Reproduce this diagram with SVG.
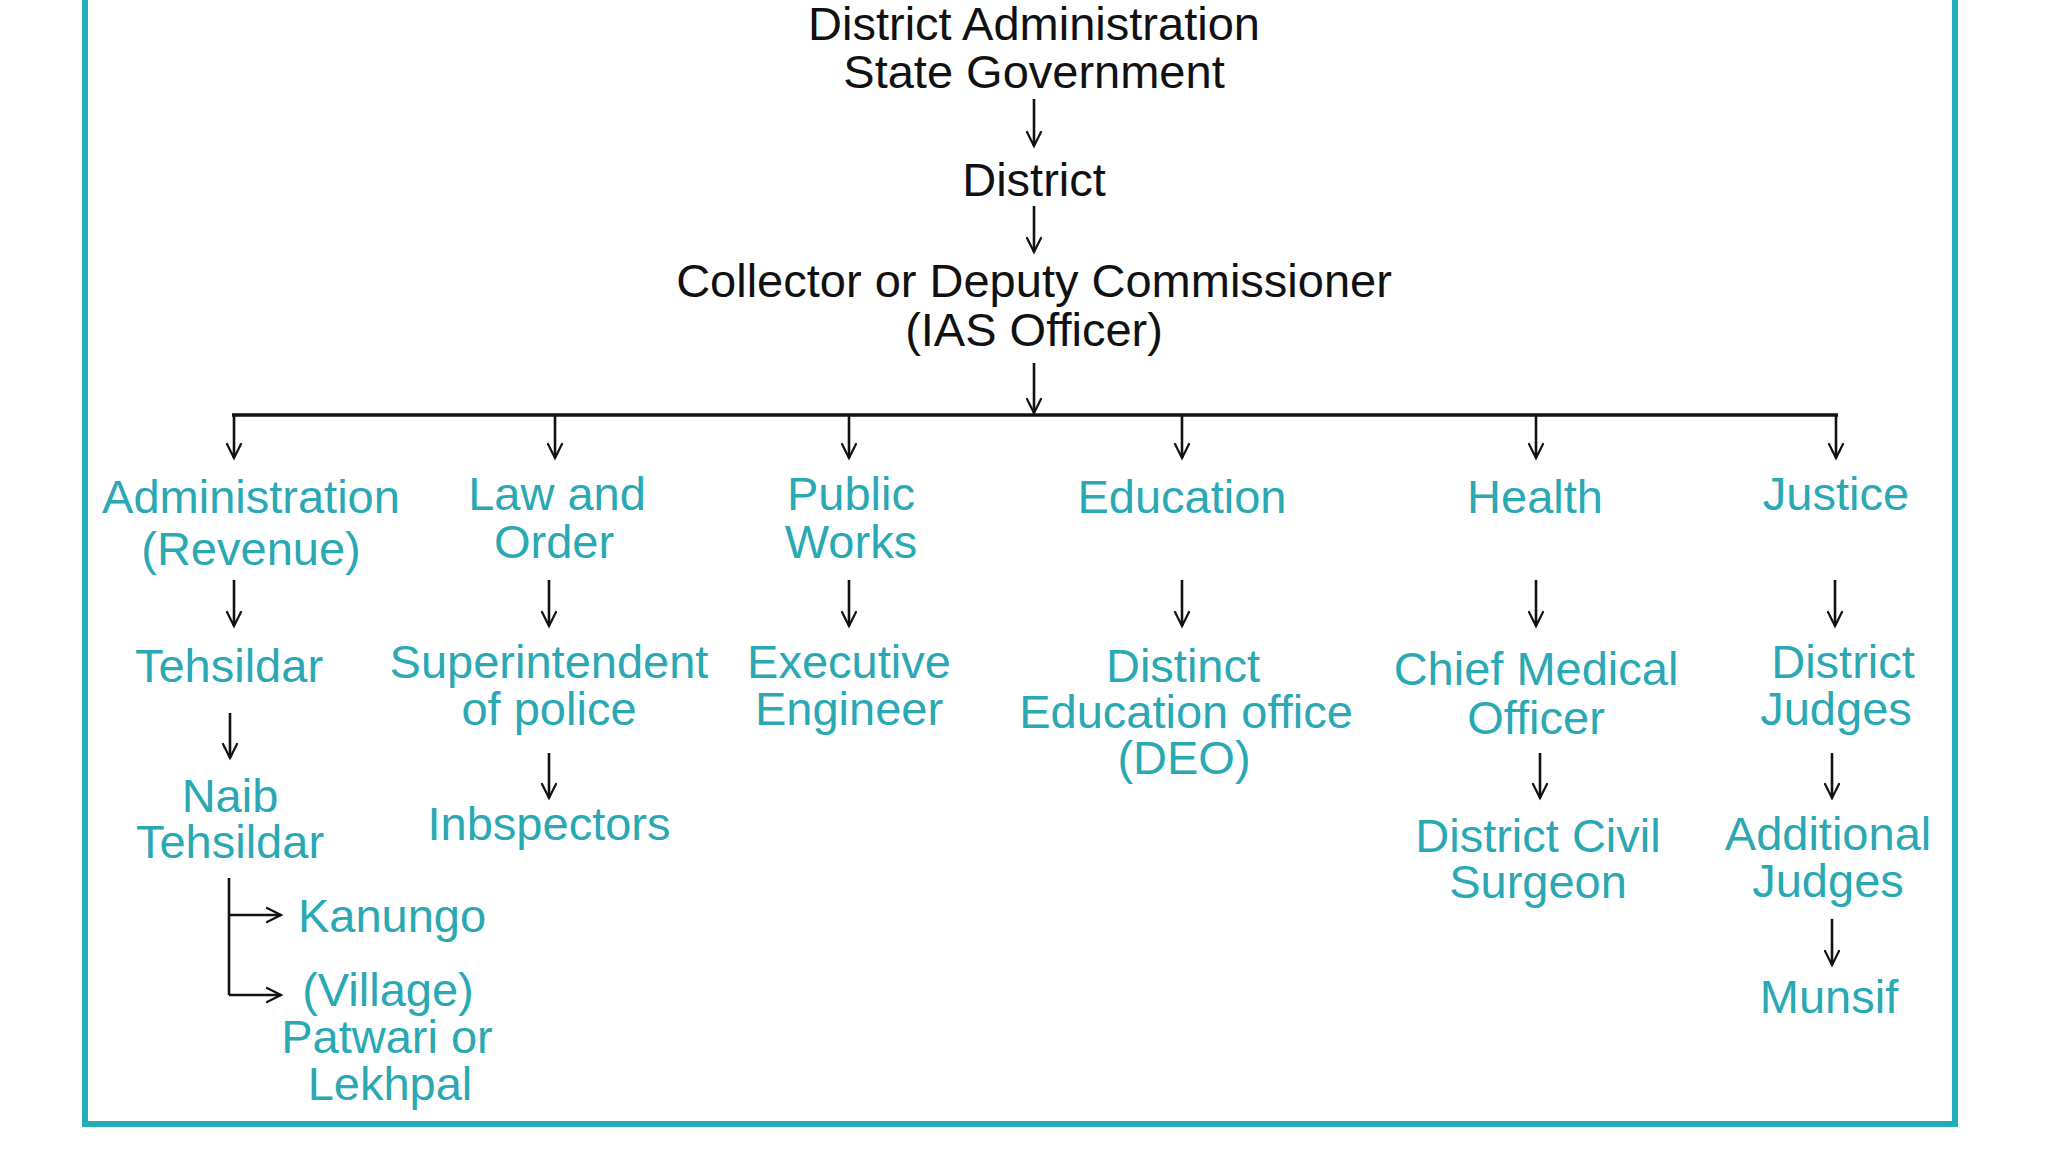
<svg xmlns="http://www.w3.org/2000/svg" width="2048" height="1152" viewBox="0 0 2048 1152">
<defs>
<marker id="ah" markerUnits="userSpaceOnUse" viewBox="-16 -10 18 20" markerWidth="18" markerHeight="20" refX="0" refY="0" orient="auto" overflow="visible">
<path d="M-14,-7 L0,0 L-14,7" fill="none" stroke="#111" stroke-width="2.2" stroke-linecap="round"/>
</marker>
<style>
text{font-family:"Liberation Sans",Arial,sans-serif;font-size:47px;text-anchor:middle}
.b{fill:#111}
.t{fill:#2aa8b3}
.l{text-anchor:start}
.c{stroke:#111;stroke-width:2.6;fill:none}
.a{marker-end:url(#ah)}
.bar{stroke:#111;stroke-width:3.5;fill:none}
</style>
</defs>
<rect width="2048" height="1152" fill="#fff"/>
<path d="M85,0 V1124 H1955 V0" fill="none" stroke="#22adb8" stroke-width="6"/>

<g id="connectors">
<line class="c a" x1="1034" y1="99" x2="1034" y2="146"/>
<line class="c a" x1="1034" y1="206" x2="1034" y2="252"/>
<line class="c a" x1="1034" y1="363" x2="1034" y2="413"/>
<line class="bar" x1="232" y1="415" x2="1838" y2="415"/>
<line class="c a" x1="234" y1="415" x2="234" y2="458"/>
<line class="c a" x1="555" y1="415" x2="555" y2="458"/>
<line class="c a" x1="849" y1="415" x2="849" y2="458"/>
<line class="c a" x1="1182" y1="415" x2="1182" y2="458"/>
<line class="c a" x1="1536" y1="415" x2="1536" y2="458"/>
<line class="c a" x1="1836" y1="415" x2="1836" y2="458"/>
<line class="c a" x1="234" y1="580" x2="234" y2="626"/>
<line class="c a" x1="549" y1="580" x2="549" y2="626"/>
<line class="c a" x1="849" y1="580" x2="849" y2="626"/>
<line class="c a" x1="1182" y1="580" x2="1182" y2="626"/>
<line class="c a" x1="1536" y1="580" x2="1536" y2="626"/>
<line class="c a" x1="1835" y1="580" x2="1835" y2="626"/>
<line class="c a" x1="230" y1="713" x2="230" y2="758"/>
<line class="c a" x1="549" y1="753" x2="549" y2="798"/>
<line class="c a" x1="1540" y1="753" x2="1540" y2="798"/>
<line class="c a" x1="1832" y1="753" x2="1832" y2="798"/>
<line class="c a" x1="1832" y1="919" x2="1832" y2="965"/>
<path class="c" d="M229,878 V995"/>
<line class="c a" x1="229" y1="915" x2="281" y2="915"/>
<line class="c a" x1="229" y1="995" x2="281" y2="995"/>
</g>

<g id="state">
<text class="b" x="1034" y="40">District Administration</text>
<text class="b" x="1034" y="88">State Government</text>
</g>
<g id="district"><text class="b" x="1034" y="196">District</text></g>
<g id="collector">
<text class="b" x="1034" y="297">Collector or Deputy Commissioner</text>
<text class="b" x="1034" y="346">(IAS Officer)</text>
</g>

<g id="administration">
<text class="t" x="251" y="513">Administration</text>
<text class="t" x="251" y="565">(Revenue)</text>
</g>
<g id="law-order">
<text class="t" x="557" y="510">Law and</text>
<text class="t" x="554" y="558">Order</text>
</g>
<g id="public-works">
<text class="t" x="851" y="510">Public</text>
<text class="t" x="851" y="558">Works</text>
</g>
<g id="education"><text class="t" x="1182" y="513">Education</text></g>
<g id="health"><text class="t" x="1535" y="513">Health</text></g>
<g id="justice"><text class="t" x="1836" y="510">Justice</text></g>

<g id="tehsildar"><text class="t" x="229" y="682">Tehsildar</text></g>
<g id="superintendent">
<text class="t" x="549" y="678">Superintendent</text>
<text class="t" x="549" y="725">of police</text>
</g>
<g id="executive-engineer">
<text class="t" x="849" y="678">Executive</text>
<text class="t" x="849" y="725">Engineer</text>
</g>
<g id="deo">
<text class="t" x="1183" y="682">Distinct</text>
<text class="t" x="1186" y="728">Education office</text>
<text class="t" x="1184" y="774">(DEO)</text>
</g>
<g id="cmo">
<text class="t" x="1536" y="685">Chief Medical</text>
<text class="t" x="1536" y="734">Officer</text>
</g>
<g id="district-judges">
<text class="t" x="1843" y="678">District</text>
<text class="t" x="1836" y="725">Judges</text>
</g>

<g id="naib-tehsildar">
<text class="t" x="230" y="812">Naib</text>
<text class="t" x="230" y="858">Tehsildar</text>
</g>
<g id="inspectors"><text class="t" x="549" y="840">Inbspectors</text></g>
<g id="civil-surgeon">
<text class="t" x="1538" y="852">District Civil</text>
<text class="t" x="1538" y="898">Surgeon</text>
</g>
<g id="additional-judges">
<text class="t" x="1828" y="850">Additional</text>
<text class="t" x="1828" y="897">Judges</text>
</g>
<g id="munsif"><text class="t" x="1829" y="1013">Munsif</text></g>

<g id="kanungo"><text class="t" x="392" y="932">Kanungo</text></g>
<g id="patwari">
<text class="t" x="388" y="1006">(Village)</text>
<text class="t" x="387" y="1053">Patwari or</text>
<text class="t" x="390" y="1100">Lekhpal</text>
</g>
</svg>
